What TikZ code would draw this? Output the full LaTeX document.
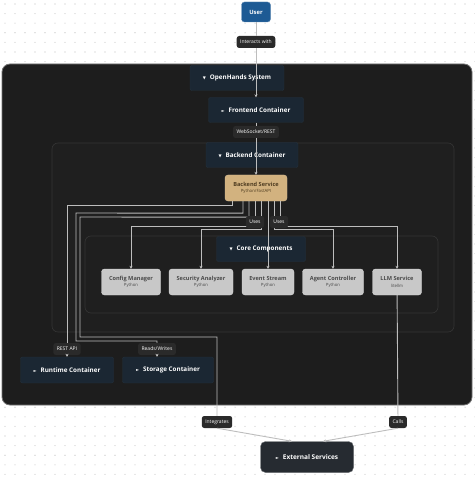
\documentclass[tikz,border=0pt]{standalone}
\usepackage{fontspec}
\setmainfont{Open Sans}
\newfontfamily\symfont{DejaVu Sans}
\usetikzlibrary{positioning, arrows.meta}

\definecolor{panelc}{HTML}{1D1D1D}
\definecolor{regionc}{HTML}{1F1F1F}
\definecolor{regionline}{HTML}{353535}
\definecolor{navyc}{HTML}{1B2733}
\definecolor{navyline}{HTML}{24313D}
\definecolor{userc}{HTML}{1D5A94}
\definecolor{lblc}{HTML}{2A2A2A}
\definecolor{linec}{HTML}{BDBDBD}
\definecolor{compc}{HTML}{C8C8C8}
\definecolor{comptext}{HTML}{4A4A4A}
\definecolor{svcc}{HTML}{D2B27F}
\definecolor{svctext}{HTML}{4E3C20}
\definecolor{extc}{HTML}{262B31}
\definecolor{dotc}{HTML}{BBBBBB}

\newcommand{\tridn}{{\symfont\fontsize{4}{4}\selectfont ▼}\hspace{4pt}}
\newcommand{\trirt}{{\symfont\fontsize{4}{4}\selectfont ►}\hspace{4pt}}

\begin{document}
\begin{tikzpicture}[x=1pt, y=-1pt,
    user/.style={rectangle, rounded corners=3pt, fill=userc, draw=userc!70!white,
        text=white, font=\bfseries\fontsize{5.8}{6}\selectfont,
        minimum width=29pt, minimum height=20pt, inner sep=0pt},
    lbl/.style={rectangle, rounded corners=2.5pt, fill=lblc, text=white!88,
        font=\fontsize{5}{6}\selectfont, minimum height=12pt, inner xsep=3.5pt, inner ysep=0pt},
    title/.style={rectangle, rounded corners=2pt, fill=navyc, draw=navyline, text=white!88,
        font=\bfseries\fontsize{6.3}{7}\selectfont, minimum height=25pt, inner sep=0pt},
    comp/.style={rectangle, rounded corners=3pt, fill=compc, draw=white!85!black, text=comptext,
        font=\bfseries\fontsize{5.6}{8}\selectfont, align=center,
        minimum height=26pt, inner sep=0pt},
    service/.style={rectangle, rounded corners=3pt, fill=svcc, draw=svcc!80!white, text=svctext,
        font=\bfseries\fontsize{5.6}{8}\selectfont, align=center,
        minimum width=62pt, minimum height=26pt, inner sep=0pt},
    ext/.style={rectangle, rounded corners=5pt, fill=extc, draw=extc!70!white, text=white!90,
        font=\bfseries\fontsize{6.5}{7}\selectfont,
        minimum width=93pt, minimum height=31pt, inner sep=0pt},
    region/.style={draw=regionline, fill=regionc, rounded corners=6pt, line width=0.6pt},
    line/.style={draw=linec, line width=0.9pt},
    conn/.style={draw=linec, line width=0.9pt, -{Stealth[length=3pt, width=3pt]}}
]

% --- Fondo punteado ---
\useasboundingbox (0,0) rectangle (474,478);
\fill[white] (0,0) rectangle (474,478);
\foreach \i in {0,...,47}
    \foreach \j in {0,...,49}
        \fill[dotc] (5+10*\i, 4+9.6*\j) circle (0.55);

% --- Panel del sistema ---
\fill[panelc, draw=black!55, line width=0.8pt, rounded corners=8pt] (2,64) rectangle (472,405);
\draw[region] (52,143) rectangle (454,332);
\draw[region] (85,236) rectangle (438,313);

% --- Nodos ---
\node[user] (user) at (256,12) {User};
\node[title, minimum width=94pt] (sys) at (237,78) {\tridn OpenHands System};
\node[title, minimum width=95pt] (fe) at (256,110) {\trirt Frontend Container};
\node[title, minimum width=92pt] (bc) at (252,155) {\tridn Backend Container};
\node[service] (svc) at (256,188) {Backend Service\\[-1.5pt]{\mdseries\fontsize{4.3}{5}\selectfont Python/FastAPI}};
\node[title, minimum width=89pt] (core) at (261,249) {\tridn Core Components};

\node[comp, minimum width=59pt] (cfg) at (131,282) {Config Manager\\[-1.5pt]{\mdseries\fontsize{4.3}{5}\selectfont Python}};
\node[comp, minimum width=64pt] (sec) at (201,282) {Security Analyzer\\[-1.5pt]{\mdseries\fontsize{4.3}{5}\selectfont Python}};
\node[comp, minimum width=52pt] (evt) at (268,282) {Event Stream\\[-1.5pt]{\mdseries\fontsize{4.3}{5}\selectfont Python}};
\node[comp, minimum width=61pt] (agc) at (333,282) {Agent Controller\\[-1.5pt]{\mdseries\fontsize{4.3}{5}\selectfont Python}};
\node[comp, minimum width=49pt] (llm) at (397,282) {LLM Service\\[-1.5pt]{\mdseries\fontsize{4.3}{5}\selectfont litellm}};

\node[title, minimum width=93pt, minimum height=26pt] (rt) at (67,370) {\trirt Runtime Container};
\node[title, minimum width=91pt, minimum height=26pt] (st) at (168,370) {\trirt Storage Container};
\node[ext] (extsrv) at (307,457) {\trirt External Services};

% --- Etiquetas de conexiones ---
\node[lbl] (lint) at (256,42) {Interacts with};
\node[lbl] (lws) at (256,132) {WebSocket/REST};
\node[lbl] (lrest) at (67,349) {REST API};
\node[lbl] (lrw) at (157,349) {Reads/Writes};
\node[lbl] (lintg) at (217,422) {Integrates};
\node[lbl] (lcalls) at (398,422) {Calls};

% --- Flujo principal ---
\draw[line] (user) -- (lint);
\draw[conn] (lint) -- (fe);
\draw[line] (fe) -- (lws);
\draw[conn] (lws) -- (svc);

% --- Backend -> componentes ---
\draw[conn] ([xshift=-1pt]svc.south) -- ++(0,25) -| (cfg.north);
\draw[conn] ([xshift=5pt]svc.south) -- ++(0,28) -| (sec.north);
\draw[conn] (evt.north |- svc.south) -- (evt.north);
\draw[conn] ([xshift=18pt]svc.south) -- ++(0,28) -| (agc.north);
\draw[conn] ([xshift=24pt]svc.south) -- ++(0,25) -| (llm.north);

% --- Backend -> contenedores ---
\draw[line] ([xshift=-24pt]svc.south) -- ++(0,4) -| (lrest.north);
\draw[conn] (lrest) -- (rt);
\draw[line] ([xshift=-13pt]svc.south) -- ++(0,12) -- (76,213) -- (76,341) -| (lrw.north);
\draw[conn] (lrw.south) -- (lrw.south |- st.north);
\draw[line] ([xshift=-7pt]svc.south) -- ++(0,16) -- (80,217) -- (80,337) -| (lintg.north);
\draw[conn] (lintg.south) -- ([xshift=-15pt]extsrv.north);

% --- LLM -> servicios externos ---
\draw[line] (llm) -- (lcalls);
\draw[conn] (lcalls.south) -- ([xshift=16pt]extsrv.north);

% --- Etiquetas "Uses" ---
\node[lbl] (luses1) at (255,222) {Uses};
\node[lbl] (luses2) at (279,222) {Uses};

\end{tikzpicture}
\end{document}
